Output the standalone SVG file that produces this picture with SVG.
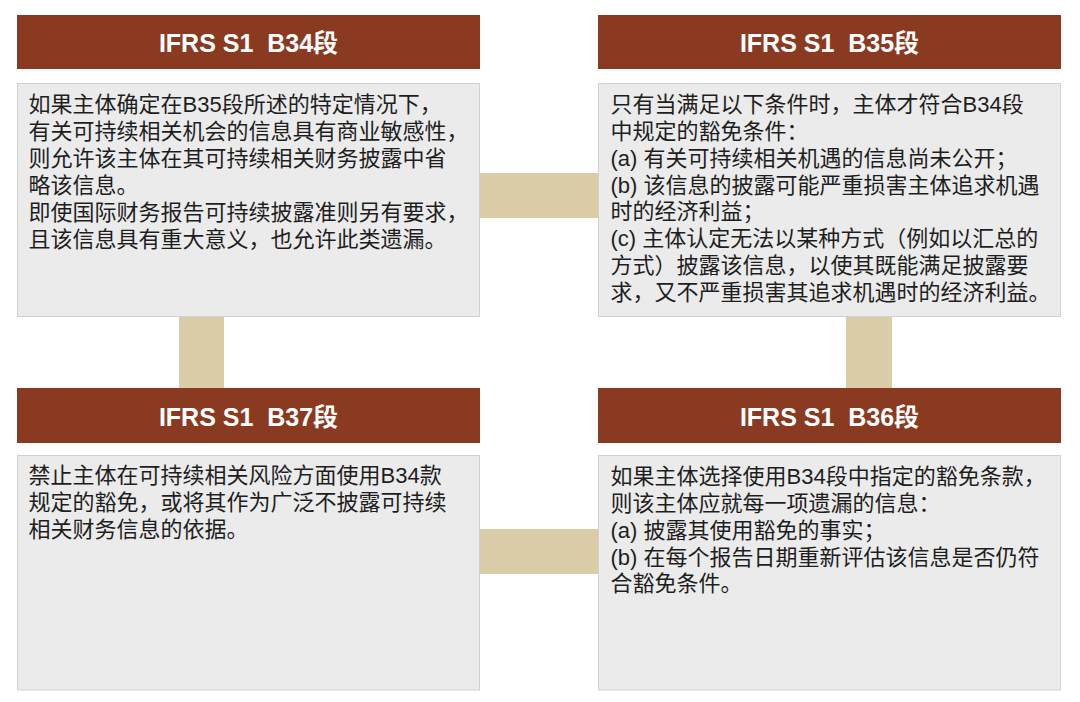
<svg xmlns="http://www.w3.org/2000/svg" width="1080" height="702" viewBox="0 0 1080 702">
<style>
.hdr{fill:#8B3A22;}
.body{fill:#EBEBEB;stroke:#D2D2D2;stroke-width:1;}
.conn{fill:#DBCCA8;}
.title{font-family:"Liberation Sans","Noto Sans CJK SC",sans-serif;font-weight:bold;font-size:25px;fill:#FFFFFF;text-anchor:middle;white-space:pre;}
.txt{font-family:"Liberation Sans","Noto Sans CJK SC",sans-serif;font-size:22px;fill:#1E1E1E;}
</style>
<rect x="0" y="0" width="1080" height="702" fill="#FFFFFF"/>
<g id="connectors">
<rect class="conn" x="480" y="173" width="118" height="45"/>
<rect class="conn" x="480" y="529" width="118" height="45"/>
<rect class="conn" x="179" y="317" width="45" height="71"/>
<rect class="conn" x="846" y="317" width="46" height="71"/>
</g>
<g id="node-b34">
<rect class="hdr" x="17" y="15" width="463" height="54"/>
<text class="title" x="248.5" y="52" xml:space="preserve">IFRS S1  B34段</text>
<rect class="body" x="17.5" y="83.5" width="462" height="233"/>
<text class="txt" x="28.5" y="112">如果主体确定在B35段所述的特定情况下，</text>
<text class="txt" x="28.5" y="139">有关可持续相关机会的信息具有商业敏感性，</text>
<text class="txt" x="28.5" y="166">则允许该主体在其可持续相关财务披露中省</text>
<text class="txt" x="28.5" y="193">略该信息。</text>
<text class="txt" x="28.5" y="220">即使国际财务报告可持续披露准则另有要求，</text>
<text class="txt" x="28.5" y="247">且该信息具有重大意义，也允许此类遗漏。</text>
</g>
<g id="node-b35">
<rect class="hdr" x="598" y="15" width="463" height="54"/>
<text class="title" x="829.5" y="52" xml:space="preserve">IFRS S1  B35段</text>
<rect class="body" x="598.5" y="83.5" width="462" height="233"/>
<text class="txt" x="610.5" y="112">只有当满足以下条件时，主体才符合B34段</text>
<text class="txt" x="610.5" y="139">中规定的豁免条件：</text>
<text class="txt" x="610.5" y="165.5">(a) 有关可持续相关机遇的信息尚未公开；</text>
<text class="txt" x="610.5" y="192.5">(b) 该信息的披露可能严重损害主体追求机遇</text>
<text class="txt" x="610.5" y="219">时的经济利益；</text>
<text class="txt" x="610.5" y="246">(c) 主体认定无法以某种方式（例如以汇总的</text>
<text class="txt" x="610.5" y="273">方式）披露该信息，以使其既能满足披露要</text>
<text class="txt" x="610.5" y="299.5">求，又不严重损害其追求机遇时的经济利益。</text>
</g>
<g id="node-b37">
<rect class="hdr" x="17" y="388" width="463" height="55"/>
<text class="title" x="248.5" y="426" xml:space="preserve">IFRS S1  B37段</text>
<rect class="body" x="17.5" y="455.5" width="462" height="234.5"/>
<text class="txt" x="28.5" y="483">禁止主体在可持续相关风险方面使用B34款</text>
<text class="txt" x="28.5" y="510">规定的豁免，或将其作为广泛不披露可持续</text>
<text class="txt" x="28.5" y="537">相关财务信息的依据。</text>
</g>
<g id="node-b36">
<rect class="hdr" x="598" y="388" width="463" height="55"/>
<text class="title" x="829.5" y="426" xml:space="preserve">IFRS S1  B36段</text>
<rect class="body" x="598.5" y="455.5" width="462" height="234.5"/>
<text class="txt" x="610.5" y="484">如果主体选择使用B34段中指定的豁免条款，</text>
<text class="txt" x="610.5" y="511">则该主体应就每一项遗漏的信息：</text>
<text class="txt" x="610.5" y="538">(a) 披露其使用豁免的事实；</text>
<text class="txt" x="610.5" y="564.5">(b) 在每个报告日期重新评估该信息是否仍符</text>
<text class="txt" x="610.5" y="591">合豁免条件。</text>
</g>
</svg>
